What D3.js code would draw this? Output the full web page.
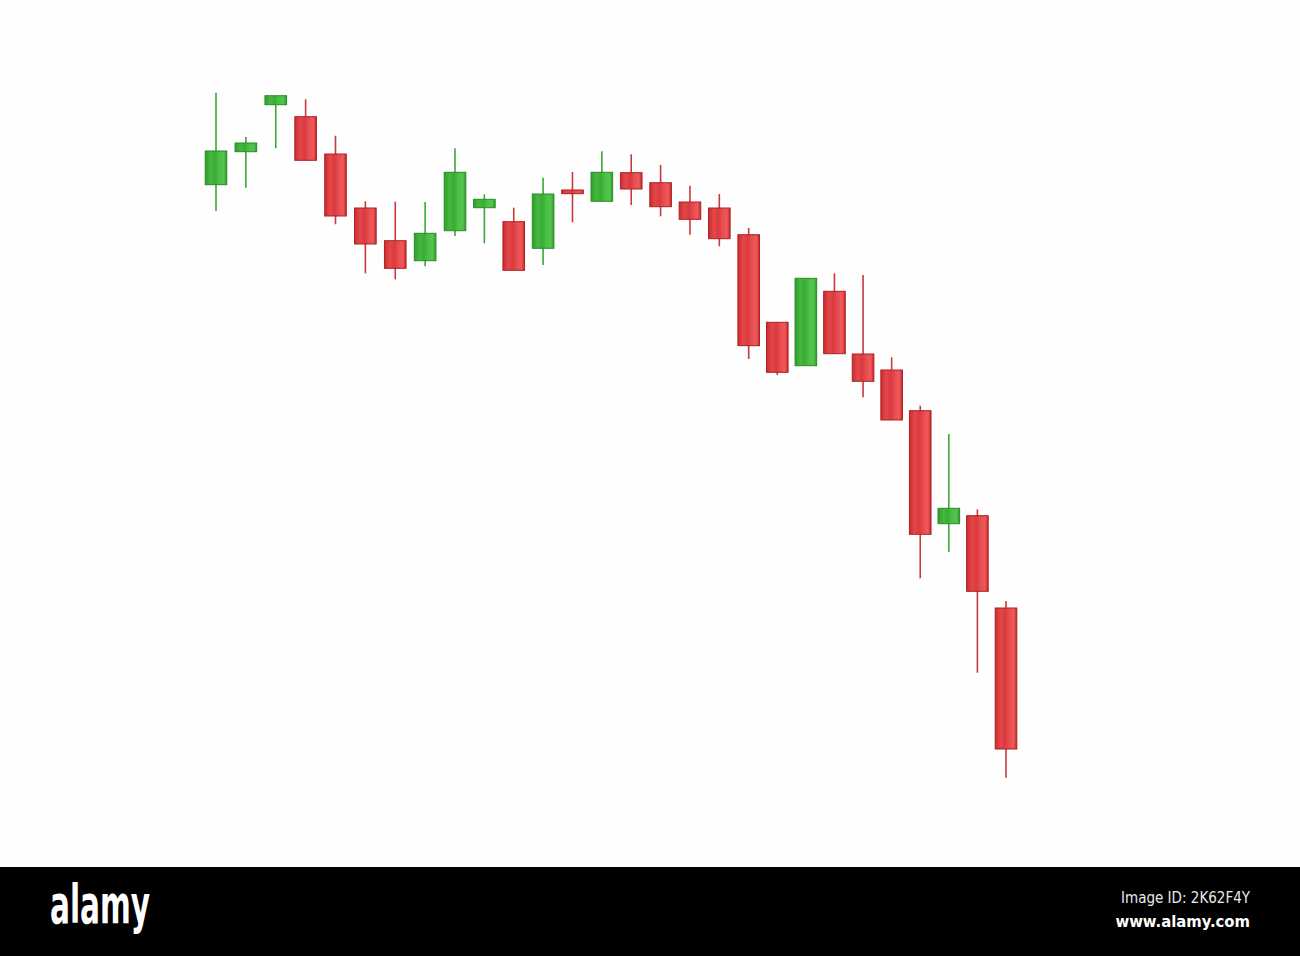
<!DOCTYPE html>
<html>
<head>
<meta charset="utf-8">
<script src="https://cdn.jsdelivr.net/npm/d3@7"></script>
<style>
  html, body { margin: 0; padding: 0; background: #fefefe; }
  svg { display: block; }
</style>
</head>
<body>
<div class="candleChart"></div>
<script>
// session index and OHLC values
const days  = d3.range(1, 29);
const open  = [67.53, 70.83, 75.53, 74.33, 70.6, 65.2, 61.93, 59.93, 62.93, 65.23, 63.83, 61.17, 67.0, 65.87,
               68.73, 67.73, 65.8, 65.2, 62.53, 53.77, 49.43, 56.87, 50.6, 49.0, 44.93, 33.63, 34.43, 25.2];
const high  = [76.73, 72.3, 76.43, 76.07, 72.43, 65.87, 65.83, 65.8, 71.17, 66.57, 65.23, 68.23, 68.8, 70.87,
               70.57, 69.5, 67.43, 66.6, 63.2, 53.77, 58.17, 58.67, 58.5, 50.27, 45.43, 42.6, 35.07, 25.9];
const low   = [64.9, 67.23, 71.17, 69.97, 63.57, 58.67, 58.07, 59.37, 62.4, 61.67, 58.97, 59.5, 63.77, 65.87,
               65.5, 64.37, 62.53, 61.37, 50.1, 48.5, 49.43, 50.63, 46.27, 44.0, 28.17, 30.8, 18.73, 8.23];
const close = [70.9, 71.7, 76.43, 69.97, 64.4, 61.6, 59.17, 62.67, 68.77, 66.07, 58.97, 66.6, 66.63, 68.77,
               67.1, 65.33, 64.07, 62.13, 51.43, 48.77, 58.17, 50.63, 47.87, 44.0, 32.57, 35.17, 26.87, 11.1];

const data = days.map((d, i) => ({
    day: d, open: open[i], high: high[i], low: low[i], close: close[i]
}));

const width = 1300;
const height = 956;

const svg = d3.select('.candleChart')
    .append('svg')
    .attr('width', width)
    .attr('height', height);

svg.append('rect')
    .attr('width', width)
    .attr('height', height)
    .attr('fill', '#fefefe');

const defs = svg.append('defs');

function cylinder(id, stops) {
    const g = defs.append('linearGradient')
        .attr('id', id)
        .attr('x1', '0%').attr('x2', '100%')
        .attr('y1', '0%').attr('y2', '0%');
    stops.forEach(s => g.append('stop').attr('offset', s[0]).attr('stop-color', s[1]));
}

cylinder('redBody', [['0%', '#cc2c2e'], ['25%', '#e4474a'], ['45%', '#d93a3d'], ['65%', '#e84d50'],
                     ['85%', '#f0595b'], ['100%', '#c52a2c']]);
cylinder('greenBody', [['0%', '#2f9e2b'], ['25%', '#45b840'], ['45%', '#3aab35'], ['65%', '#4cc046'],
                       ['85%', '#52c64c'], ['100%', '#2f9a2b']]);

// y scale in price units
const yScale = d3.scaleLinear()
    .domain([0, 86])
    .range([860, 0]);

// the photo is shot at a slight angle, so sessions get a little closer to the right
const xScale = d3.scaleLinear()
    .domain([1, 9, 19, 28])
    .range([216, 455, 748.7, 1006]);

const bodyW = 21.6;
const isUp = d => d.close >= d.open;

const candles = svg.append('g')
    .selectAll('g')
    .data(data)
    .enter()
    .append('g');

candles.append('line')
    .attr('x1', d => xScale(d.day))
    .attr('x2', d => xScale(d.day))
    .attr('y1', d => yScale(d.high))
    .attr('y2', d => yScale(d.low))
    .attr('stroke', d => isUp(d) ? '#3aa836' : '#c9383a')
    .attr('stroke-width', 1.6);

candles.append('rect')
    .attr('x', d => xScale(d.day) - bodyW / 2)
    .attr('y', d => yScale(Math.max(d.open, d.close)))
    .attr('width', bodyW)
    .attr('height', d => Math.max(3, yScale(Math.min(d.open, d.close)) - yScale(Math.max(d.open, d.close))))
    .attr('fill', d => isUp(d) ? 'url(#greenBody)' : 'url(#redBody)')
    .attr('stroke', d => isUp(d) ? '#2b8a28' : '#a82224')
    .attr('stroke-width', 1);

// stock-photo footer
svg.append('rect')
    .attr('x', 0)
    .attr('y', 867)
    .attr('width', width)
    .attr('height', height - 867)
    .attr('fill', '#000');

svg.append('text')
    .attr('x', 50)
    .attr('y', 923)
    .attr('fill', '#fff')
    .attr('font-family', '"Liberation Sans Narrow", "DejaVu Sans Condensed", sans-serif')
    .attr('font-weight', 'bold')
    .attr('font-size', 54)
    .attr('textLength', 100)
    .attr('lengthAdjust', 'spacingAndGlyphs')
    .text('alamy');

svg.append('text')
    .attr('x', 1250)
    .attr('y', 903)
    .attr('text-anchor', 'end')
    .attr('fill', '#e8e8e8')
    .attr('font-family', '"DejaVu Sans Condensed", "DejaVu Sans", sans-serif')
    .attr('font-size', 15)
    .text('Image ID: 2K62F4Y');

svg.append('text')
    .attr('x', 1250)
    .attr('y', 927)
    .attr('text-anchor', 'end')
    .attr('fill', '#fff')
    .attr('font-family', '"DejaVu Sans Condensed", "DejaVu Sans", sans-serif')
    .attr('font-weight', 'bold')
    .attr('font-size', 16.5)
    .text('www.alamy.com');
</script>
</body>
</html>
